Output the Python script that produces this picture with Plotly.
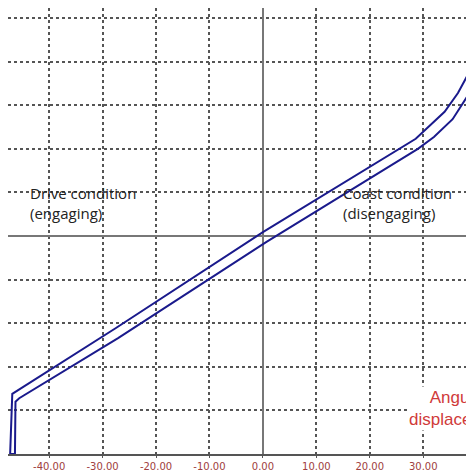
import plotly.graph_objects as go

# lower branch (loading, left -> right)
lower_x = [-46.4, -46.3, -45.6, -27.1, 0.6, 29.0, 32.0, 35.5, 38.5, 40.9]
lower_y = [-5.0, -3.80, -3.72, -2.34, -0.14, 2.0, 2.27, 2.68, 3.25, 4.09]
# upper branch (unloading, right -> left)
upper_x = [41.0, 39.0, 36.5, 34.0, 28.6, 0.0, -27.5, -46.9, -47.3]
upper_y = [4.43, 3.85, 3.28, 2.85, 2.23, 0.09, -2.11, -3.62, -5.0]

xticks = [-40, -30, -20, -10, 0, 10, 20, 30, 40]
xticklabels = ["-40.00", "-30.00", "-20.00", "-10.00", "0.00", "10.00", "20.00", "30.00", "40.00"]
yticks = [-5, -4, -3, -2, -1, 0, 1, 2, 3, 4, 5]

fig = go.Figure()
fig.add_trace(go.Scatter(x=lower_x + upper_x + [lower_x[0]], y=lower_y + upper_y + [lower_y[0]],
                         mode="lines", line=dict(color="#1a1a8c", width=2), hoverinfo="skip"))
fig.update_layout(
    width=474, height=474, margin=dict(l=0, r=0, t=0, b=28),
    plot_bgcolor="white", paper_bgcolor="white", showlegend=False,
    xaxis=dict(range=[-47.7, 41.0], tickvals=xticks, ticktext=xticklabels,
               showgrid=True, gridcolor="#555555", griddash="dot", gridwidth=1.5,
               zeroline=True, zerolinecolor="#777777", zerolinewidth=1.5,
               showline=True, linecolor="#555555", linewidth=1.5,
               ticks="outside", ticklen=2, tickcolor="#555555",
               tickfont=dict(family="DejaVu Sans", size=10, color="#a04040")),
    yaxis=dict(range=[-5.0, 5.23], tickvals=yticks, showticklabels=False,
               showgrid=True, gridcolor="#555555", griddash="dot", gridwidth=1.5,
               zeroline=True, zerolinecolor="#777777", zerolinewidth=1.5),
    annotations=[
        dict(x=-44, y=0.75, xref="x", yref="y", xanchor="left", yanchor="middle", align="left",
             text="Drive condition<br>(engaging)", showarrow=False,
             font=dict(family="Open Sans", size=15, color="#222222")),
        dict(x=14.7, y=0.75, xref="x", yref="y", xanchor="left", yanchor="middle", align="left",
             text="Coast condition<br>(disengaging)", showarrow=False,
             font=dict(family="Open Sans", size=15, color="#222222")),
        dict(x=27.0, y=-3.95, xref="x", yref="y", xanchor="left", yanchor="middle", align="center",
             text="Angular<br>displacement", showarrow=False,
             font=dict(family="Liberation Sans", size=17, color="#d03a3a"), bgcolor="white"),
    ],
)
fig.write_html("out.html")
